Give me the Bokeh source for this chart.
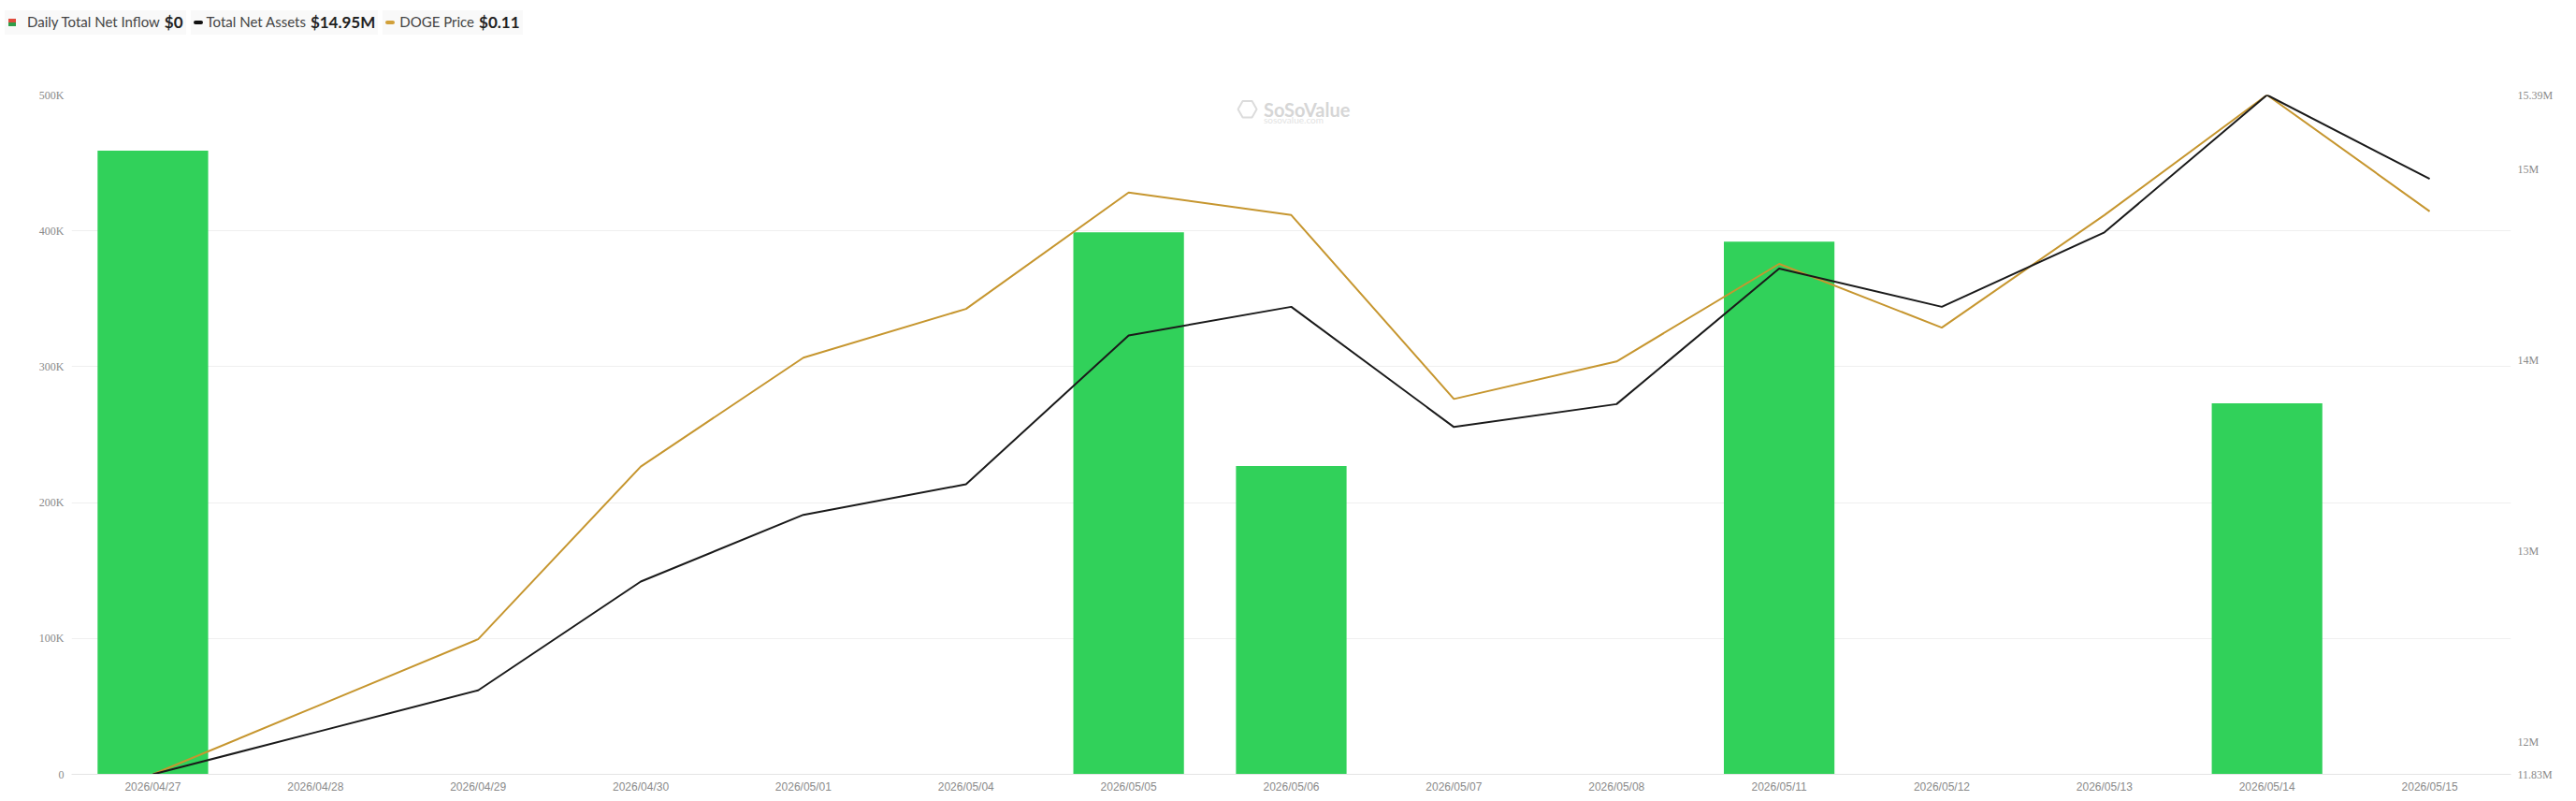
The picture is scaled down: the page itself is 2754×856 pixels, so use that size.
from bokeh.plotting import figure
from bokeh.models import Range1d, LinearAxis, FixedTicker, Div, Label, FactorRange
from bokeh.layouts import column
from bokeh.embed import file_html
from bokeh.resources import INLINE

dates = ["2026/04/27", "2026/04/28", "2026/04/29", "2026/04/30", "2026/05/01",
         "2026/05/04", "2026/05/05", "2026/05/06", "2026/05/07", "2026/05/08",
         "2026/05/11", "2026/05/12", "2026/05/13", "2026/05/14", "2026/05/15"]
inflow = [459000, 0, 0, 0, 0, 0, 399000, 227000, 0, 0, 392000, 0, 0, 273000, 0]
assets_m = [11.83, 12.05, 12.27, 12.84, 13.19, 13.35, 14.13, 14.28, 13.65, 13.77,
            14.48, 14.28, 14.67, 15.39, 14.95]
price = [0.0950, 0.0968, 0.0986, 0.1032, 0.1061, 0.1074, 0.1105, 0.1099, 0.1050,
         0.1060, 0.1086, 0.1069, 0.1099, 0.1131, 0.1100]

left_ticks = [0, 100000, 200000, 300000, 400000, 500000]
left_labels = ["0", "100K", "200K", "300K", "400K", "500K"]
right_ticks = [11.83e6, 12e6, 13e6, 14e6, 15e6, 15.39e6]
right_labels = ["11.83M", "12M", "13M", "14M", "15M", "15.39M"]

assets = [a * 1e6 for a in assets_m]

p = figure(x_range=FactorRange(*dates), y_range=Range1d(0, 500000),
           width=2738, height=810, output_backend="svg", toolbar_location=None,
           min_border_left=76, min_border_right=54, min_border_top=61, min_border_bottom=19)
p.outline_line_color = None
p.background_fill_color = "white"
p.extra_y_ranges = {"assets": Range1d(11.83e6, 15.39e6), "price": Range1d(0.0950, 0.1131)}

bar_x = [d for d, v in zip(dates, inflow) if v > 0]
bar_top = [v for v in inflow if v > 0]
p.vbar(x=bar_x, top=bar_top, width=0.68, color="#31d15a", line_color=None)

p.line(x=dates, y=price, y_range_name="price", line_color="#c6962f", line_width=2)
p.line(x=dates, y=assets, y_range_name="assets", line_color="#1a1a1a", line_width=2)

p.xgrid.grid_line_color = None
p.ygrid.grid_line_color = "#efefef"
p.ygrid.ticker = FixedTicker(ticks=left_ticks)


def style_axis(ax):
    ax.axis_line_color = None
    ax.major_tick_line_color = None
    ax.minor_tick_line_color = None
    ax.major_tick_out = 0
    ax.major_tick_in = 0
    ax.minor_tick_out = 0
    ax.minor_tick_in = 0
    ax.major_label_text_font = "Liberation Serif"
    ax.major_label_text_font_size = "12px"
    ax.major_label_text_color = "#8a8a8a"


ya = p.yaxis[0]
ya.ticker = FixedTicker(ticks=left_ticks)
ya.major_label_overrides = {t: l for t, l in zip(left_ticks, left_labels)}
style_axis(ya)
ya.major_label_standoff = 8

ra = LinearAxis(y_range_name="assets")
ra.ticker = FixedTicker(ticks=right_ticks)
ra.major_label_overrides = {t: l for t, l in zip(right_ticks, right_labels)}
style_axis(ra)
ra.major_label_standoff = 7
p.add_layout(ra, "right")

xa = p.xaxis[0]
style_axis(xa)
xa.axis_line_color = "#e4e4e4"
xa.major_label_text_font = "Liberation Sans"
xa.major_label_standoff = 6

# watermark
p.scatter(x=[7.23], y=[489500], marker="hex", size=20, fill_color=None,
          line_color="#dcdcdc", line_width=2)
p.add_layout(Label(x=7.33, y=489500, text="SoSoValue", text_font="Lato",
                   text_font_size="20px", text_color="#d6d6d6", text_baseline="middle",
                   text_font_style="bold"))
p.add_layout(Label(x=7.33, y=481500, text="sosovalue.com", text_font="Lato",
                   text_font_size="10px", text_color="#e2e2e2", text_baseline="middle"))

item = ("display:inline-flex;align-items:center;background:#f9f9f9;"
        "padding:0px 3px 0px 3px;margin-right:5px;height:26px;")
lab = "font-family:Lato;font-size:15px;color:#444;"
val = "font-family:Lato;font-size:17px;font-weight:bold;color:#222;margin-left:5px;"
html = (
    "<div style='display:flex;align-items:center;white-space:nowrap;margin-top:6px;'>"
    f"<span style='{item}'>"
    "<span style='display:inline-block;width:8px;height:8px;margin-left:1px;margin-right:12px;"
    "background:linear-gradient(#e04b3c 50%, #2f9e4a 50%);'></span>"
    f"<span style='{lab}'>Daily Total Net Inflow</span><span style='{val}'>$0</span></span>"
    f"<span style='{item}'>"
    "<span style='display:inline-block;width:10px;height:4px;border-radius:2px;margin-right:4px;background:#111;'></span>"
    f"<span style='{lab}'>Total Net Assets</span><span style='{val}'>$14.95M</span></span>"
    f"<span style='{item}'>"
    "<span style='display:inline-block;width:10px;height:4px;border-radius:2px;margin-right:5px;background:#d1a03a;'></span>"
    f"<span style='{lab}'>DOGE Price</span><span style='{val}'>$0.11</span></span>"
    "</div>"
)
legend = Div(text=html, width=2738, height=30)

layout = column(legend, p)
open("out.html", "w").write(file_html(layout, INLINE))
